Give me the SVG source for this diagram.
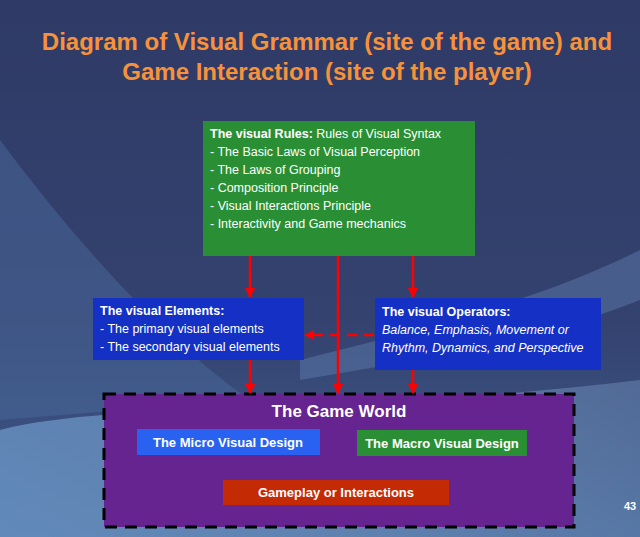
<svg xmlns="http://www.w3.org/2000/svg" width="640" height="537" viewBox="0 0 640 537">
<defs>
<linearGradient id="bg" x1="0" y1="0" x2="0" y2="1"><stop offset="0" stop-color="#2f3a66"/><stop offset="0.6" stop-color="#34426f"/><stop offset="1" stop-color="#3f5d8e"/></linearGradient>
<linearGradient id="sw" x1="0" y1="0" x2="1" y2="0"><stop offset="0" stop-color="#6f9ccc" stop-opacity="0.7"/><stop offset="1" stop-color="#8fb4dc" stop-opacity="0.3"/></linearGradient>
<marker id="ah" viewBox="0 0 10 10" refX="9" refY="5" markerWidth="4" markerHeight="4" orient="auto"><path d="M0,0 L10,5 L0,10 z" fill="#ff0000"/></marker>
</defs>
<style>
.t{font-family:"Liberation Sans",Arial,sans-serif;fill:#fff;font-size:12.5px}
.b{font-weight:bold}
.m{font-size:13px}
.c{stroke:#ff0000;stroke-width:2.5;fill:none;marker-end:url(#ah)}
</style>
<rect width="640" height="537" fill="url(#bg)"/>
<path d="M0,140 C60,220 150,330 250,400 L0,420 z" fill="#4a6a9c" opacity="0.5"/>
<path d="M0,430 C120,400 300,420 640,380 L640,537 L0,537 z" fill="url(#sw)"/>
<path d="M300,360 C420,330 540,300 640,250 L640,300 C540,340 420,360 300,380 z" fill="#6d93c4" opacity="0.35"/>
<text x="327" y="50" text-anchor="middle" font-family="Liberation Sans,Arial,sans-serif" font-weight="bold" font-size="24" fill="#f7923a">Diagram of Visual Grammar (site of the game) and</text>
<text x="327" y="80" text-anchor="middle" font-family="Liberation Sans,Arial,sans-serif" font-weight="bold" font-size="24" fill="#f7923a">Game Interaction (site of the player)</text>
<g id="rules"><rect x="203" y="121" width="272" height="135" fill="#2a8f34"/>
<text class="t" x="210" y="138"><tspan class="b">The visual Rules:</tspan> Rules of Visual Syntax</text>
<text class="t" x="210" y="156">- The Basic Laws of Visual Perception</text>
<text class="t" x="210" y="174">- The Laws of Grouping</text>
<text class="t" x="210" y="192">- Composition Principle</text>
<text class="t" x="210" y="210">- Visual Interactions Principle</text>
<text class="t" x="210" y="228">- Interactivity and Game mechanics</text></g>
<g id="elements"><rect x="93" y="298" width="211" height="62" fill="#1530c4"/>
<text class="t b" x="100" y="315">The visual Elements:</text>
<text class="t" x="100" y="333">- The primary visual elements</text>
<text class="t" x="100" y="351">- The secondary visual elements</text></g>
<g id="operators"><rect x="375" y="298" width="226" height="72" fill="#1530c4"/>
<text class="t b" x="382" y="316">The visual Operators:</text>
<text class="t" x="382" y="334" font-style="italic"> Balance, Emphasis, Movement or</text>
<text class="t" x="382" y="352" font-style="italic">Rhythm, Dynamics, and Perspective</text></g>
<g id="world"><rect x="104" y="394" width="470" height="133" fill="#652490" stroke="#000" stroke-width="3" stroke-dasharray="12,8"/>
<text class="t b" x="339" y="417" text-anchor="middle" style="font-size:17px">The Game World</text></g>
<g id="micro"><rect x="137" y="429" width="183" height="26" fill="#2962f0"/><text class="t b m" x="228" y="447" text-anchor="middle">The Micro Visual Design</text></g>
<g id="macro"><rect x="357" y="430" width="170" height="26" fill="#2a8f34"/><text class="t b m" x="442" y="448" text-anchor="middle">The Macro Visual Design</text></g>
<g id="gameplay"><rect x="223" y="480" width="226" height="25" fill="#c42a04"/><text class="t b m" x="336" y="497" text-anchor="middle">Gameplay or Interactions</text></g>
<g id="connectors">
<line class="c" x1="250" y1="256" x2="250" y2="297"/>
<line class="c" x1="413" y1="256" x2="413" y2="297"/>
<line class="c" x1="338" y1="256" x2="338" y2="393"/>
<line class="c" x1="250" y1="360" x2="250" y2="393"/>
<line class="c" x1="413" y1="370" x2="413" y2="393"/>
<line class="c" x1="374" y1="335" x2="305" y2="335" stroke-dasharray="10,7"/>
</g>
<text class="t b" x="624" y="510" style="font-size:11px">43</text>
</svg>
